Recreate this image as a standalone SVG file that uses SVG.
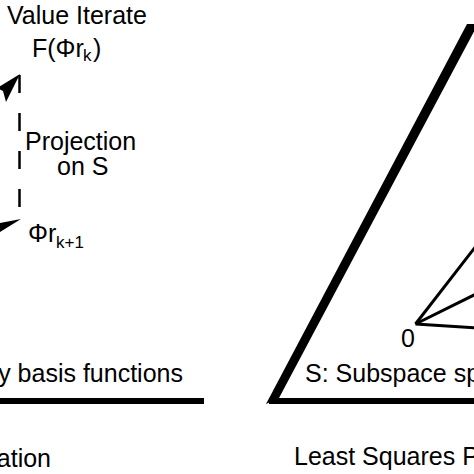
<svg xmlns="http://www.w3.org/2000/svg" width="474" height="474" viewBox="0 0 474 474">
<style>
text{font-family:"Liberation Sans",Arial,Helvetica,sans-serif;font-size:25px;fill:#000}
.sub{font-size:17px}
.thin{stroke:#000;stroke-width:3;fill:none}
</style>
<rect width="474" height="474" fill="#fff"/>
<g id="left-panel">
  <g id="value-iterate">
    <text x="7" y="24">Value Iterate</text>
    <text x="32" y="57">F(Φr</text>
    <text class="sub" x="83" y="61">k</text>
    <text x="93" y="57">)</text>
  </g>
  <g id="projected">
    <text x="28" y="242">Φr</text>
    <text class="sub" x="56" y="248">k+1</text>
  </g>
  <g id="projection-label">
    <text x="25" y="150">Projection</text>
    <text x="57" y="175">on S</text>
  </g>
  <g id="subspace-left">
    <text x="183" y="382" text-anchor="end">y basis functions</text>
    <rect x="0" y="398" width="204" height="6" fill="#000"/>
  </g>
  <text x="51" y="467" text-anchor="end">ation</text>
</g>
<g id="connectors">
  <line x1="19.5" y1="75" x2="19.5" y2="208" stroke="#000" stroke-width="2.5" stroke-dasharray="18 20"/>
  <polygon points="20,74 -3,88 3,91 6,102" fill="#000"/>
  <polygon points="21,219 0,223 0,232" fill="#000"/>
  <line class="thin" x1="415.5" y1="324" x2="476" y2="246"/>
  <line class="thin" x1="415.5" y1="324" x2="476" y2="294"/>
  <line class="thin" x1="415.5" y1="324" x2="476" y2="328"/>
</g>
<g id="right-panel">
  <polygon id="subspace-edge" points="266,404 467,24 478,24 279,398" fill="#000"/>
  <rect x="269" y="398" width="210" height="6" fill="#000"/>
  <g id="origin"><text x="408" y="347" text-anchor="middle">0</text></g>
  <text x="305" y="382">S: Subspace sp</text>
  <text x="294" y="465">Least Squares P</text>
</g>
</svg>
